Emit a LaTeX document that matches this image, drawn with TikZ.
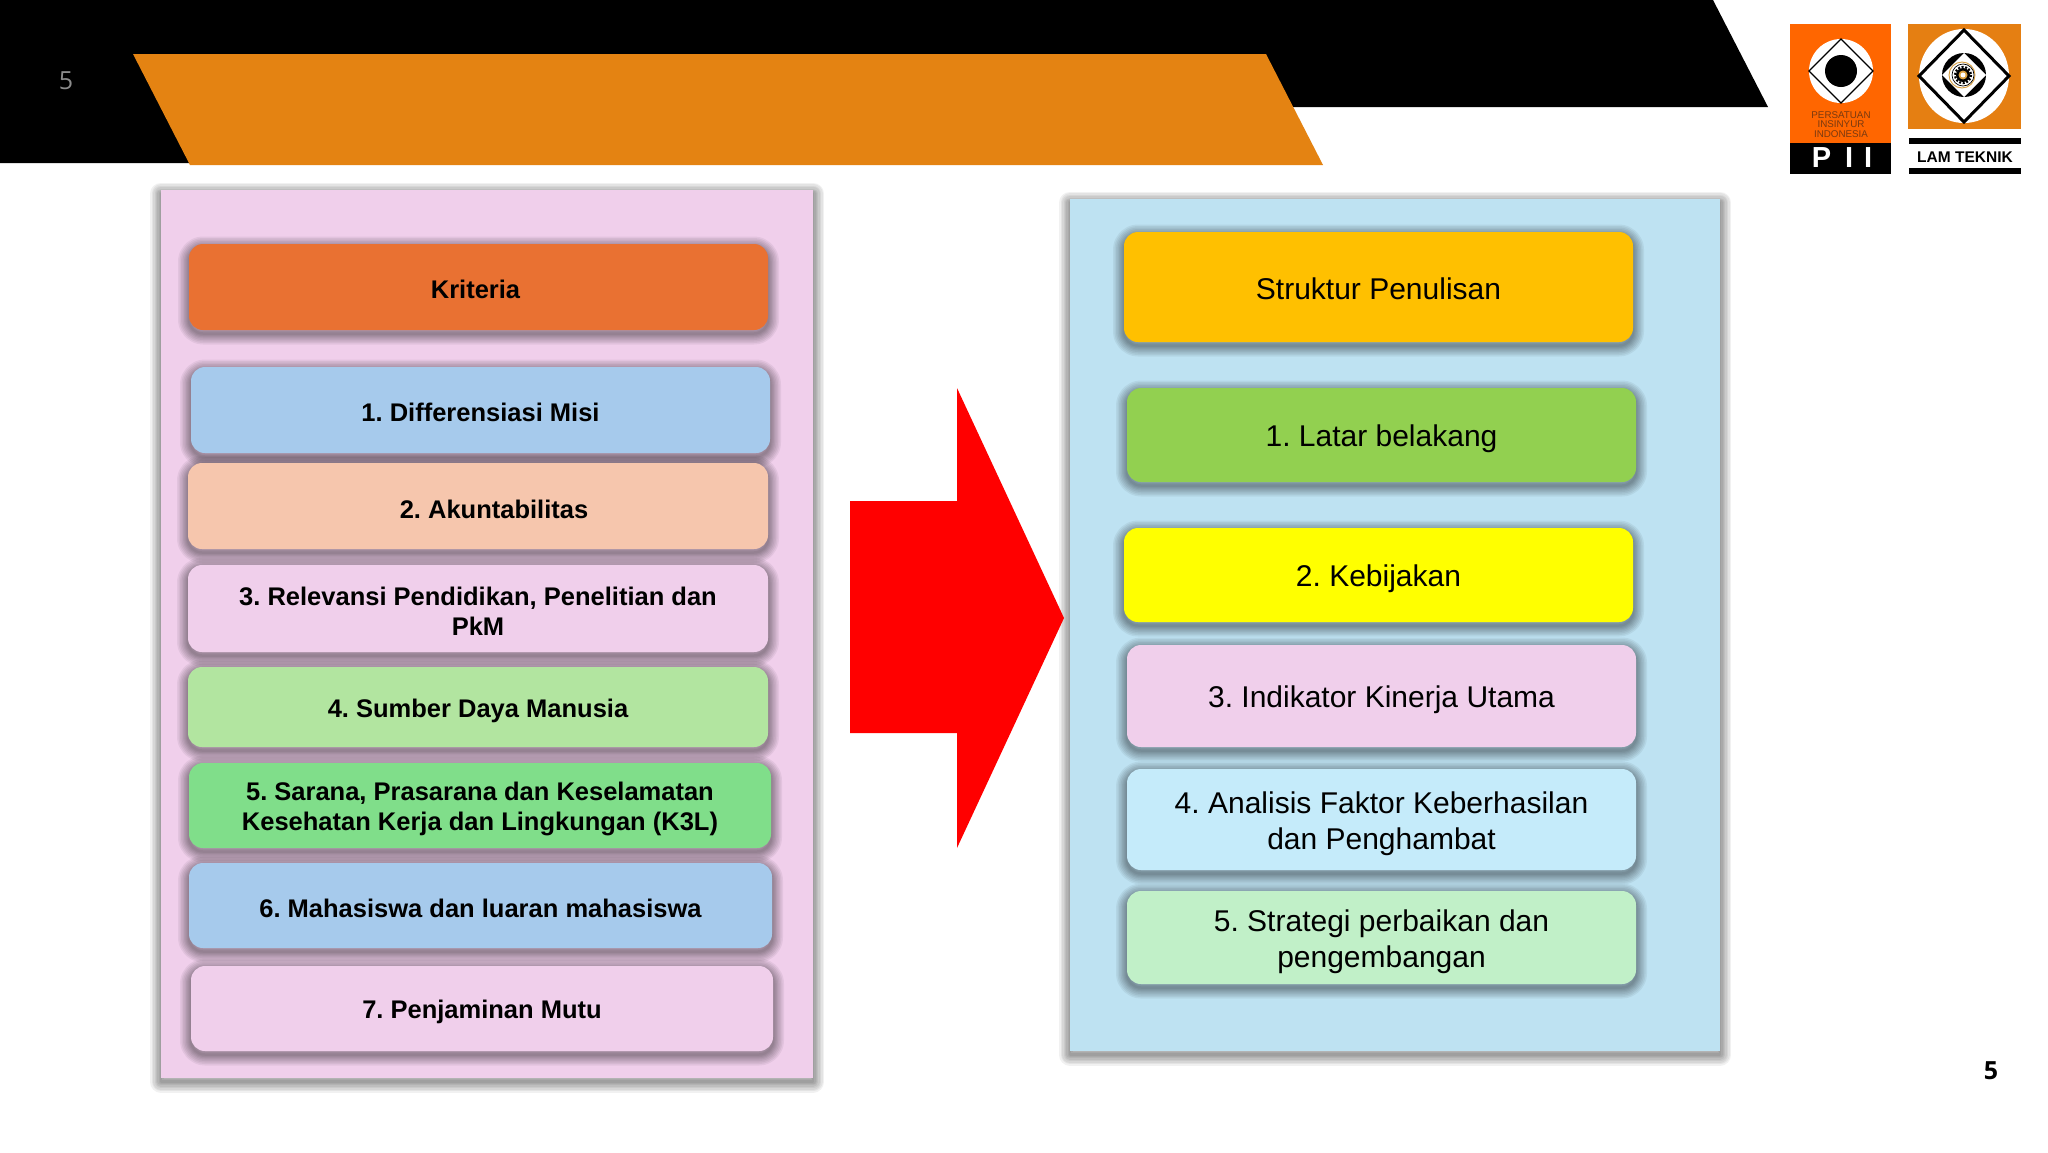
\documentclass[tikz,border=0pt]{standalone}
\usepackage{fontspec}
\setmainfont{Liberation Sans}
\newfontfamily\slidefont{Open Sans}
\frenchspacing
\definecolor{panelpink}{HTML}{F0CFEB}
\definecolor{panelblue}{HTML}{BEE2F2}
\definecolor{hdrorange}{HTML}{E48312}
\definecolor{kritorange}{HTML}{E97132}
\definecolor{softblue}{HTML}{A6CAEC}
\definecolor{softpeach}{HTML}{F6C6AD}
\definecolor{softgreen}{HTML}{B2E5A0}
\definecolor{midgreen}{HTML}{80DE8A}
\definecolor{strukt}{HTML}{FFC000}
\definecolor{latar}{HTML}{92D050}
\definecolor{pureyellow}{HTML}{FFFF00}
\definecolor{palecyan}{HTML}{C5EBFA}
\definecolor{palegreen}{HTML}{C1F0C8}
\definecolor{piiorange}{HTML}{FF6600}
\definecolor{piitext}{HTML}{7A3A10}
\definecolor{lamorange}{HTML}{E57F12}
\definecolor{gearring}{HTML}{D9A040}
\definecolor{pureRed}{HTML}{FF0000}
\tikzset{
  shadowring/.style={preaction={draw=black,draw opacity=.055,fill=none,line join=round,line width=#1,transform canvas={yshift=-3.5pt}}},
  softshadow/.style={shadowring=22pt,shadowring=19pt,shadowring=16pt,shadowring=13pt,
    shadowring=10pt,shadowring=7.5pt,shadowring=5pt,shadowring=2.5pt},
  panelbox/.style={rectangle,inner sep=0pt,softshadow},
  itembox/.style={rectangle,rounded corners=14pt,inner sep=0pt,softshadow},
  lefttext/.style={inner sep=0pt,align=center,yshift=-2.5pt,text=black,
    font=\fontsize{25.5}{30.5}\selectfont\bfseries},
  righttext/.style={inner sep=0pt,align=center,yshift=-4pt,text=black,
    font=\fontsize{30}{36.5}\selectfont},
}
% name, x0, y0, x1, y1, box style, fill, label style, text
\newcommand{\pxbox}[9]{%
  \pgfmathsetmacro{\bw}{#4-#2}\pgfmathsetmacro{\bh}{#5-#3}%
  \pgfmathsetmacro{\bx}{(#2+#4)/2}\pgfmathsetmacro{\by}{(#3+#5)/2}%
  \node[#6,fill=#7,minimum width=\bw pt,minimum height=\bh pt,label={[#8]center:{#9}}] (#1) at (\bx,\by) {};}
\begin{document}
\begin{tikzpicture}[x=1pt,y=-1pt]
\useasboundingbox (0,0) rectangle (2048,1152);
\fill[white] (0,0) rectangle (2048,1152);
% header
\fill[black] (0,0) -- (1713,0) -- (1768,107) -- (1280,107) -- (1280,163) -- (0,163) -- cycle;
\fill[hdrorange] (133,54) -- (1266,54) -- (1323,165) -- (190,165) -- cycle;
\node[text=white!55!black,font=\slidefont\fontsize{25}{25}\selectfont,inner sep=0pt] (pgtop) at (66,81) {5};
\node[text=black,font=\slidefont\fontsize{25}{25}\selectfont\bfseries,inner sep=0pt] (pgbot) at (1991,1071) {5};
% left panel
\pxbox{lp}{161}{190}{813}{1078}{panelbox}{panelpink}{}{}
\pxbox{k0}{189}{244}{768}{330}{itembox}{kritorange}{lefttext,xshift=-3pt}{Kriteria}
\pxbox{k1}{191}{367}{770}{453}{itembox}{softblue}{lefttext}{1. Differensiasi Misi}
\pxbox{k2}{188}{463}{768}{549}{itembox}{softpeach}{lefttext,xshift=16pt,yshift=-1pt}{2. Akuntabilitas}
\pxbox{k3}{188}{565}{768}{652}{itembox}{panelpink}{lefttext}{3. Relevansi Pendidikan, Penelitian dan\\PkM}
\pxbox{k4}{188}{667}{768}{747}{itembox}{softgreen}{lefttext,yshift=-1pt}{4. Sumber Daya Manusia}
\pxbox{k5}{189}{763}{771}{848}{itembox}{midgreen}{lefttext,yshift=-1pt}{5. Sarana, Prasarana dan Keselamatan\\Kesehatan Kerja dan Lingkungan (K3L)}
\pxbox{k6}{189}{863}{772}{948}{itembox}{softblue}{lefttext}{6. Mahasiswa dan luaran mahasiswa}
\pxbox{k7}{191}{966}{773}{1051}{itembox}{panelpink}{lefttext,yshift=-1pt}{7. Penjaminan Mutu}
% right panel
\pxbox{rp}{1070}{199}{1720}{1051}{panelbox}{panelblue}{}{}
\pxbox{s0}{1124}{232}{1633}{342}{itembox}{strukt}{righttext,yshift=2pt}{Struktur Penulisan}
\pxbox{s1}{1127}{388}{1636}{482}{itembox}{latar}{righttext}{1. Latar belakang}
\pxbox{s2}{1124}{528}{1633}{622}{itembox}{pureyellow}{righttext}{2. Kebijakan}
\pxbox{s3}{1127}{645}{1636}{747}{itembox}{panelpink}{righttext}{3. Indikator Kinerja Utama}
\pxbox{s4}{1127}{769}{1636}{870}{itembox}{palecyan}{righttext}{4. Analisis Faktor Keberhasilan\\dan Penghambat}
\pxbox{s5}{1127}{891}{1636}{984}{itembox}{palegreen}{righttext}{5. Strategi perbaikan dan\\pengembangan}
% arrow
\fill[pureRed] (850,501) -- (957,501) -- (957,388) -- (1064,618) -- (957,848) -- (957,733) -- (850,733) -- cycle;
% PII logo
\fill[piiorange] (1790,24) rectangle (1891,143);
\fill[black] (1790,143) rectangle (1891,174);
\fill[white] (1841,71) circle[radius=32];
\draw[black,line width=1.3pt,line join=miter] (1841,39) -- (1873,71) -- (1841,103) -- (1809,71) -- cycle;
\fill[black] (1841,71) circle[radius=16];
\node[inner sep=0pt,align=center,text=piitext,font=\fontsize{9.8}{9.4}\selectfont] (piitxt) at (1841,124.5) {PERSATUAN\\INSINYUR\\INDONESIA};
\node[inner sep=0pt,text=white,font=\fontsize{29}{29}\selectfont\bfseries] (piiname) at (1842,158) {P\hspace{14pt}I\hspace{11pt}I};
% LAM logo
\fill[lamorange] (1908,24) rectangle (2021,129);
\fill[white] (1964,76) ellipse[x radius=45,y radius=47];
\draw[black,line width=3pt,line join=miter] (1964,30) -- (2009,76) -- (1964,122) -- (1919,76) -- cycle;
\fill[black] (1964,75) circle[radius=22];
\fill[white] (1964,53) -- (1986,75) -- (1964,97) -- (1942,75) -- cycle;
\draw[gearring,line width=.9pt] (1962,75) circle[radius=13];
\draw[black,line width=.7pt] (1963,75) circle[radius=11];
\draw[black,line width=2.2pt,dash pattern=on 2pt off 1.6pt] (1963,75) circle[radius=8];
\fill[black] (1963,75) circle[radius=7];
\fill[gearring] (1963,75) circle[radius=4.5];
\fill[white] (1963,75) circle[radius=2.5];
\fill[black] (1909,138) rectangle (2021,144);
\fill[black] (1909,168) rectangle (2021,174);
\node[inner sep=0pt,text=black,font=\fontsize{15.5}{15.5}\selectfont\bfseries] (lamname) at (1965,157) {LAM TEKNIK};
\end{tikzpicture}
\end{document}
